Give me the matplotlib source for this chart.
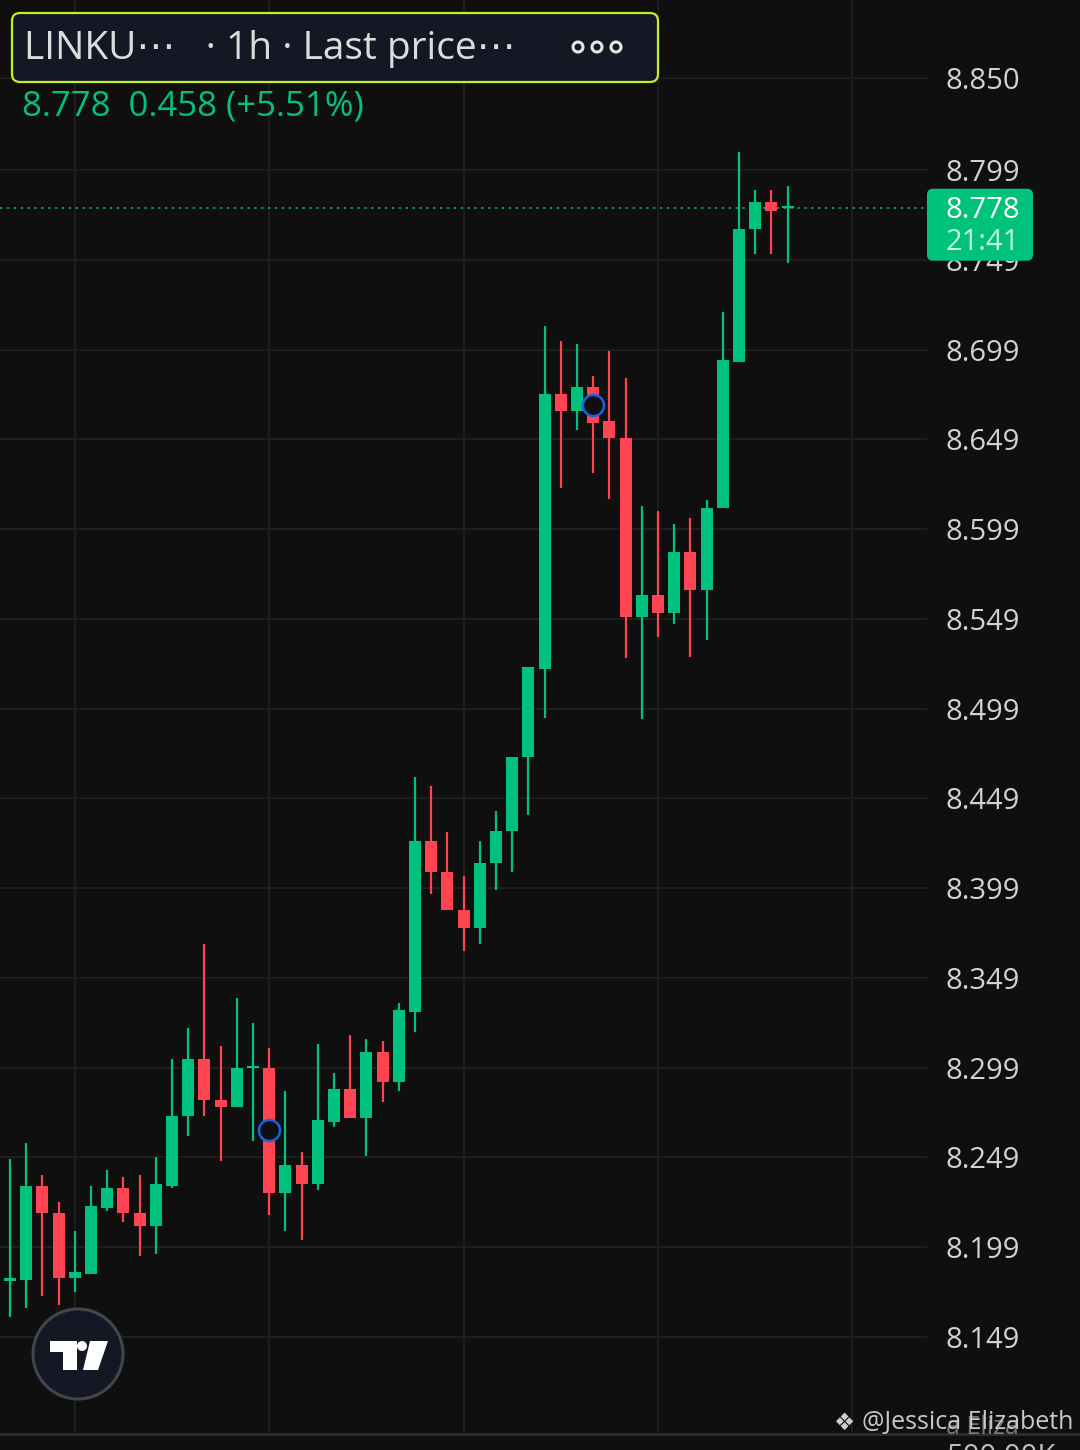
import matplotlib
matplotlib.use("Agg")
import matplotlib.pyplot as plt
import numpy as np
from matplotlib.patches import FancyBboxPatch, Circle, Polygon

# hourly candles, LINKUSDT
opens  = [8.180, 8.181, 8.233, 8.218, 8.182, 8.184, 8.221, 8.232, 8.218, 8.211,
          8.233, 8.272, 8.304, 8.281, 8.277, 8.299, 8.299, 8.229, 8.245, 8.234,
          8.269, 8.287, 8.271, 8.308, 8.291, 8.330, 8.425, 8.408, 8.387, 8.377,
          8.413, 8.431, 8.472, 8.521, 8.674, 8.665, 8.678, 8.659, 8.650, 8.550,
          8.562, 8.552, 8.586, 8.565, 8.611, 8.692, 8.766, 8.781, 8.778]
highs  = [8.248, 8.257, 8.239, 8.224, 8.208, 8.233, 8.242, 8.238, 8.239, 8.249,
          8.304, 8.321, 8.368, 8.311, 8.338, 8.324, 8.310, 8.286, 8.252, 8.312,
          8.296, 8.317, 8.315, 8.314, 8.335, 8.461, 8.456, 8.430, 8.406, 8.425,
          8.442, 8.472, 8.522, 8.712, 8.704, 8.702, 8.684, 8.698, 8.683, 8.612,
          8.609, 8.602, 8.605, 8.615, 8.720, 8.809, 8.788, 8.788, 8.790]
lows   = [8.160, 8.165, 8.172, 8.167, 8.174, 8.184, 8.219, 8.213, 8.194, 8.195,
          8.232, 8.261, 8.272, 8.247, 8.277, 8.258, 8.217, 8.208, 8.203, 8.231,
          8.266, 8.271, 8.250, 8.280, 8.286, 8.319, 8.396, 8.387, 8.364, 8.368,
          8.398, 8.408, 8.440, 8.494, 8.622, 8.654, 8.630, 8.616, 8.527, 8.493,
          8.539, 8.546, 8.528, 8.537, 8.611, 8.692, 8.752, 8.752, 8.747]
closes = [8.182, 8.233, 8.218, 8.182, 8.185, 8.222, 8.232, 8.218, 8.211, 8.234,
          8.272, 8.304, 8.281, 8.277, 8.299, 8.300, 8.229, 8.245, 8.234, 8.270,
          8.287, 8.271, 8.308, 8.291, 8.331, 8.425, 8.408, 8.387, 8.377, 8.413,
          8.431, 8.472, 8.522, 8.674, 8.665, 8.678, 8.658, 8.650, 8.550, 8.562,
          8.552, 8.586, 8.565, 8.611, 8.693, 8.766, 8.781, 8.776, 8.778]

marker_idx = [16, 36]
marker_px = [8.264, 8.668]

price_ticks = ["8.850", "8.799", "8.749", "8.699", "8.649", "8.599", "8.549",
               "8.499", "8.449", "8.399", "8.349", "8.299", "8.249", "8.199", "8.149"]
time_grid = [4, 16, 28, 40, 52]

last_price = 8.778
countdown = "21:41"
header = "LINKU\u22ef   \u00b7 1h \u00b7 Last price\u22ef"
change_text = "8.778  0.458 (+5.51%)"

BG = "#0f0f0f"
GREEN = "#00c27c"
RED = "#fe4351"
GRID = "#1e1e1e"

plt.rcParams['font.family'] = ['Open Sans', 'DejaVu Sans']

fig = plt.figure(figsize=(10.8, 14.5), dpi=100, facecolor=BG)
ax = fig.add_axes([0, 17 / 1450, 927 / 1080, 1433 / 1450])
ax.set_facecolor(BG)
for s in ax.spines.values():
    s.set_visible(False)

x = np.arange(len(opens))
o = np.array(opens); c = np.array(closes)
up = c >= o
cols = np.where(up, GREEN, RED)
body_lo = np.minimum(o, c)
body_h = np.maximum(np.abs(c - o), 0.0012)

ax.vlines(x, lows, highs, colors=cols, linewidth=1.6, zorder=3)
ax.bar(x, body_h, bottom=body_lo, width=0.74, color=cols, zorder=4)
ax.scatter(marker_idx, marker_px, s=230, facecolor=BG, edgecolor="#1f5fe0",
           linewidth=1.8, zorder=5)

ax.axhline(last_price, color=GREEN, linestyle=(0, (1.5, 3)), linewidth=1.1, zorder=2)

ax.set_xlim(-0.617, 56.6)
ax.set_ylim(8.0955, 8.8937)
ax.set_yticks([float(t) for t in price_ticks])
ax.set_yticklabels(price_ticks)
ax.yaxis.tick_right()
ax.tick_params(axis='y', length=0, pad=13, labelsize=21, labelcolor="#d2d2d2")
ax.set_xticks(time_grid)
ax.tick_params(axis='x', length=0, labelbottom=False)
ax.grid(True, color=GRID, linewidth=1.5)
ax.set_axisbelow(True)

# overlay in pixel coordinates for the chrome
ov = fig.add_axes([0, 0, 1, 1], facecolor='none')
ov.set_xlim(0, 1080)
ov.set_ylim(1450, 0)
ov.axis('off')

# last price label on the scale
ypix = 1450 - ax.transData.transform((0, last_price))[1]
ov.add_patch(FancyBboxPatch((927, ypix - 19), 106, 72,
                            boxstyle="round,pad=0,rounding_size=6",
                            facecolor=GREEN, edgecolor='none', zorder=5))
ov.text(983, ypix + 3, "%.3f" % last_price, ha='center', va='center',
        fontsize=21, color='white', zorder=6)
ov.text(983, ypix + 35, countdown, ha='center', va='center',
        fontsize=21, color='#c8f2df', zorder=6)

# header
ov.add_patch(FancyBboxPatch((12, 13), 646, 69, boxstyle="round,pad=0,rounding_size=8",
                            facecolor="#141824", edgecolor="#c3ee2a", linewidth=1.6, zorder=5))
ov.text(24, 49, header, ha='left', va='center', fontsize=28, color="#dcdcdc", zorder=6)
for cx in [578, 597, 616]:
    ov.add_patch(Circle((cx, 47), 5, facecolor='none', edgecolor="#e6e6e6",
                        linewidth=2.2, zorder=6))
ov.text(22, 106, change_text, ha='left', va='center', fontsize=25, color=GREEN, zorder=6)

# logo
ov.add_patch(Circle((78, 1354), 45, facecolor="#141824", edgecolor="#42454e",
                    linewidth=2.2, zorder=5))
ov.add_patch(Polygon([(50, 1341), (77, 1341), (77, 1370), (63, 1370), (63, 1352), (50, 1352)],
                     facecolor='white', edgecolor='none', zorder=6))
ov.add_patch(Circle((82, 1346), 5, facecolor='white', edgecolor='none', zorder=6))
ov.add_patch(Polygon([(90, 1341), (108, 1341), (98, 1370), (83, 1370)],
                     facecolor='white', edgecolor='none', zorder=6))

# bottom edge of the pane
ov.plot([0, 1080], [1434, 1434], color="#2a2d33", linewidth=2, zorder=4)
ov.text(946, 1443, "500.00K", ha='left', va='top', fontsize=21, color="#bdbdbd", zorder=4)

# watermark
ov.text(844, 1423, "\u2756", ha='center', va='center', fontsize=17, color="#cfcfcf",
        family=['DejaVu Sans'], zorder=6)
ov.text(862, 1423, "@Jessica Elizabeth", ha='left', va='center', fontsize=18,
        color="#c8c8c8", zorder=6)
ov.text(946, 1427, "a Eliza", ha='left', va='center', fontsize=18,
        color="#c8c8c8", alpha=0.55, zorder=6)

fig.savefig("out.png", dpi=100, facecolor=BG)
